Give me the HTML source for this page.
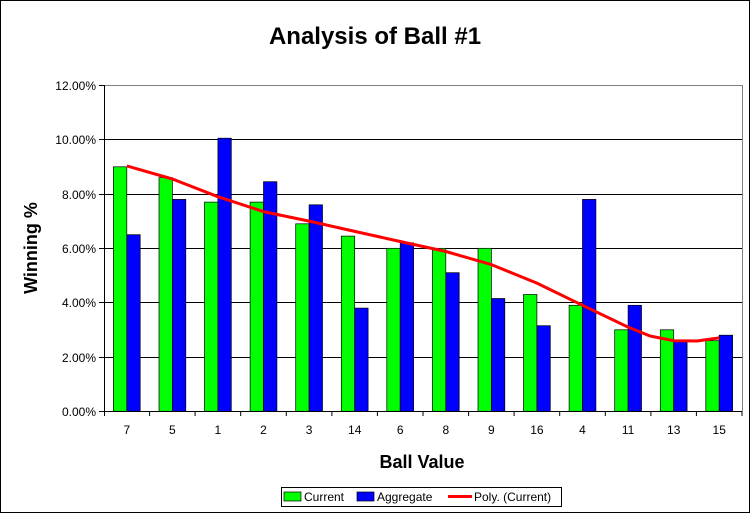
<!DOCTYPE html>
<html><head><style>body{margin:0;background:#fff}svg{display:block}text{font-family:"Liberation Sans",Arial,sans-serif}</style></head><body>
<svg width="751" height="514" viewBox="0 0 751 514" xmlns="http://www.w3.org/2000/svg">
<rect x="0.5" y="0.5" width="749" height="512" fill="#fff" stroke="#000"/>
<text x="375" y="44" font-size="24" font-weight="bold" text-anchor="middle">Analysis of Ball #1</text>
<g stroke="#000" stroke-width="1">
<line x1="104" y1="85.5" x2="742" y2="85.5" stroke="#808080"/>
<line x1="104" y1="139.5" x2="742" y2="139.5"/>
<line x1="104" y1="194.5" x2="742" y2="194.5"/>
<line x1="104" y1="248.5" x2="742" y2="248.5"/>
<line x1="104" y1="302.5" x2="742" y2="302.5"/>
<line x1="104" y1="357.5" x2="742" y2="357.5"/>
<line x1="742.5" y1="85" x2="742.5" y2="411" stroke="#808080"/>
</g>
<g stroke="#000" stroke-width="0.7">
<rect x="113.4" y="166.8" width="13.4" height="244.5" fill="#00ff00"/><rect x="126.8" y="234.7" width="13.4" height="176.6" fill="#0000ff"/>
<rect x="159.0" y="177.6" width="13.4" height="233.7" fill="#00ff00"/><rect x="172.4" y="199.4" width="13.4" height="211.9" fill="#0000ff"/>
<rect x="204.5" y="202.1" width="13.4" height="209.2" fill="#00ff00"/><rect x="217.9" y="138.2" width="13.4" height="273.1" fill="#0000ff"/>
<rect x="250.1" y="202.1" width="13.4" height="209.2" fill="#00ff00"/><rect x="263.5" y="181.7" width="13.4" height="229.6" fill="#0000ff"/>
<rect x="295.7" y="223.8" width="13.4" height="187.5" fill="#00ff00"/><rect x="309.1" y="204.8" width="13.4" height="206.5" fill="#0000ff"/>
<rect x="341.3" y="236.1" width="13.4" height="175.2" fill="#00ff00"/><rect x="354.7" y="308.1" width="13.4" height="103.2" fill="#0000ff"/>
<rect x="386.8" y="248.3" width="13.4" height="163.0" fill="#00ff00"/><rect x="400.2" y="242.8" width="13.4" height="168.5" fill="#0000ff"/>
<rect x="432.4" y="248.3" width="13.4" height="163.0" fill="#00ff00"/><rect x="445.8" y="272.7" width="13.4" height="138.6" fill="#0000ff"/>
<rect x="478.0" y="248.3" width="13.4" height="163.0" fill="#00ff00"/><rect x="491.4" y="298.5" width="13.4" height="112.8" fill="#0000ff"/>
<rect x="523.5" y="294.5" width="13.4" height="116.8" fill="#00ff00"/><rect x="536.9" y="325.7" width="13.4" height="85.6" fill="#0000ff"/>
<rect x="569.1" y="305.3" width="13.4" height="106.0" fill="#00ff00"/><rect x="582.5" y="199.4" width="13.4" height="211.9" fill="#0000ff"/>
<rect x="614.7" y="329.8" width="13.4" height="81.5" fill="#00ff00"/><rect x="628.1" y="305.3" width="13.4" height="106.0" fill="#0000ff"/>
<rect x="660.3" y="329.8" width="13.4" height="81.5" fill="#00ff00"/><rect x="673.7" y="340.7" width="13.4" height="70.6" fill="#0000ff"/>
<rect x="705.8" y="340.7" width="13.4" height="70.6" fill="#00ff00"/><rect x="719.2" y="335.2" width="13.4" height="76.1" fill="#0000ff"/>
</g>
<g stroke="#000" stroke-width="1">
<line x1="104.5" y1="85" x2="104.5" y2="416"/>
<line x1="99" y1="411.5" x2="742" y2="411.5"/>
<line x1="99" y1="85.5" x2="104" y2="85.5"/><line x1="99" y1="139.5" x2="104" y2="139.5"/><line x1="99" y1="194.5" x2="104" y2="194.5"/><line x1="99" y1="248.5" x2="104" y2="248.5"/><line x1="99" y1="302.5" x2="104" y2="302.5"/><line x1="99" y1="357.5" x2="104" y2="357.5"/>
<line x1="149.6" y1="411" x2="149.6" y2="416"/><line x1="195.1" y1="411" x2="195.1" y2="416"/><line x1="240.7" y1="411" x2="240.7" y2="416"/><line x1="286.3" y1="411" x2="286.3" y2="416"/><line x1="331.9" y1="411" x2="331.9" y2="416"/><line x1="377.4" y1="411" x2="377.4" y2="416"/><line x1="423" y1="411" x2="423" y2="416"/><line x1="468.6" y1="411" x2="468.6" y2="416"/><line x1="514.1" y1="411" x2="514.1" y2="416"/><line x1="559.7" y1="411" x2="559.7" y2="416"/><line x1="605.3" y1="411" x2="605.3" y2="416"/><line x1="650.9" y1="411" x2="650.9" y2="416"/><line x1="696.4" y1="411" x2="696.4" y2="416"/><line x1="742" y1="411" x2="742" y2="416"/>
</g>
<g font-size="12" text-anchor="end">
<text x="96" y="90">12.00%</text><text x="96" y="144">10.00%</text><text x="96" y="199">8.00%</text><text x="96" y="253">6.00%</text><text x="96" y="307">4.00%</text><text x="96" y="362">2.00%</text><text x="96" y="416">0.00%</text>
</g>
<g font-size="12" text-anchor="middle">
<text x="126.8" y="434">7</text><text x="172.4" y="434">5</text><text x="217.9" y="434">1</text><text x="263.5" y="434">2</text><text x="309.1" y="434">3</text><text x="354.7" y="434">14</text><text x="400.2" y="434">6</text><text x="445.8" y="434">8</text><text x="491.4" y="434">9</text><text x="536.9" y="434">16</text><text x="582.5" y="434">4</text><text x="628.1" y="434">11</text><text x="673.7" y="434">13</text><text x="719.2" y="434">15</text>
</g>
<polyline fill="none" stroke="#f00" stroke-width="3" stroke-linejoin="round" points="126.8,165.9 172.4,179.0 217.9,196.7 263.5,211.6 309.1,221.1 354.7,231.4 400.2,241.5 445.8,251.5 491.4,264.6 536.9,283.1 582.5,305.3 628.1,327.1 650,336 673.7,340.7 697,341 719.2,337.9"/>
<text x="422" y="468" font-size="18" font-weight="bold" text-anchor="middle">Ball Value</text>
<text transform="translate(37,248) rotate(-90)" font-size="18" font-weight="bold" text-anchor="middle">Winning %</text>
<rect x="281.5" y="487.5" width="280" height="19" fill="#fff" stroke="#000"/>
<rect x="284" y="492" width="17" height="9" fill="#00ff00" stroke="#000" stroke-width="0.7"/>
<text x="304" y="501" font-size="12">Current</text>
<rect x="357" y="492" width="17" height="9" fill="#0000ff" stroke="#000" stroke-width="0.7"/>
<text x="377" y="501" font-size="12">Aggregate</text>
<line x1="448" y1="496.5" x2="472" y2="496.5" stroke="#f00" stroke-width="3"/>
<text x="474" y="501" font-size="12">Poly. (Current)</text>
</svg>
</body></html>
